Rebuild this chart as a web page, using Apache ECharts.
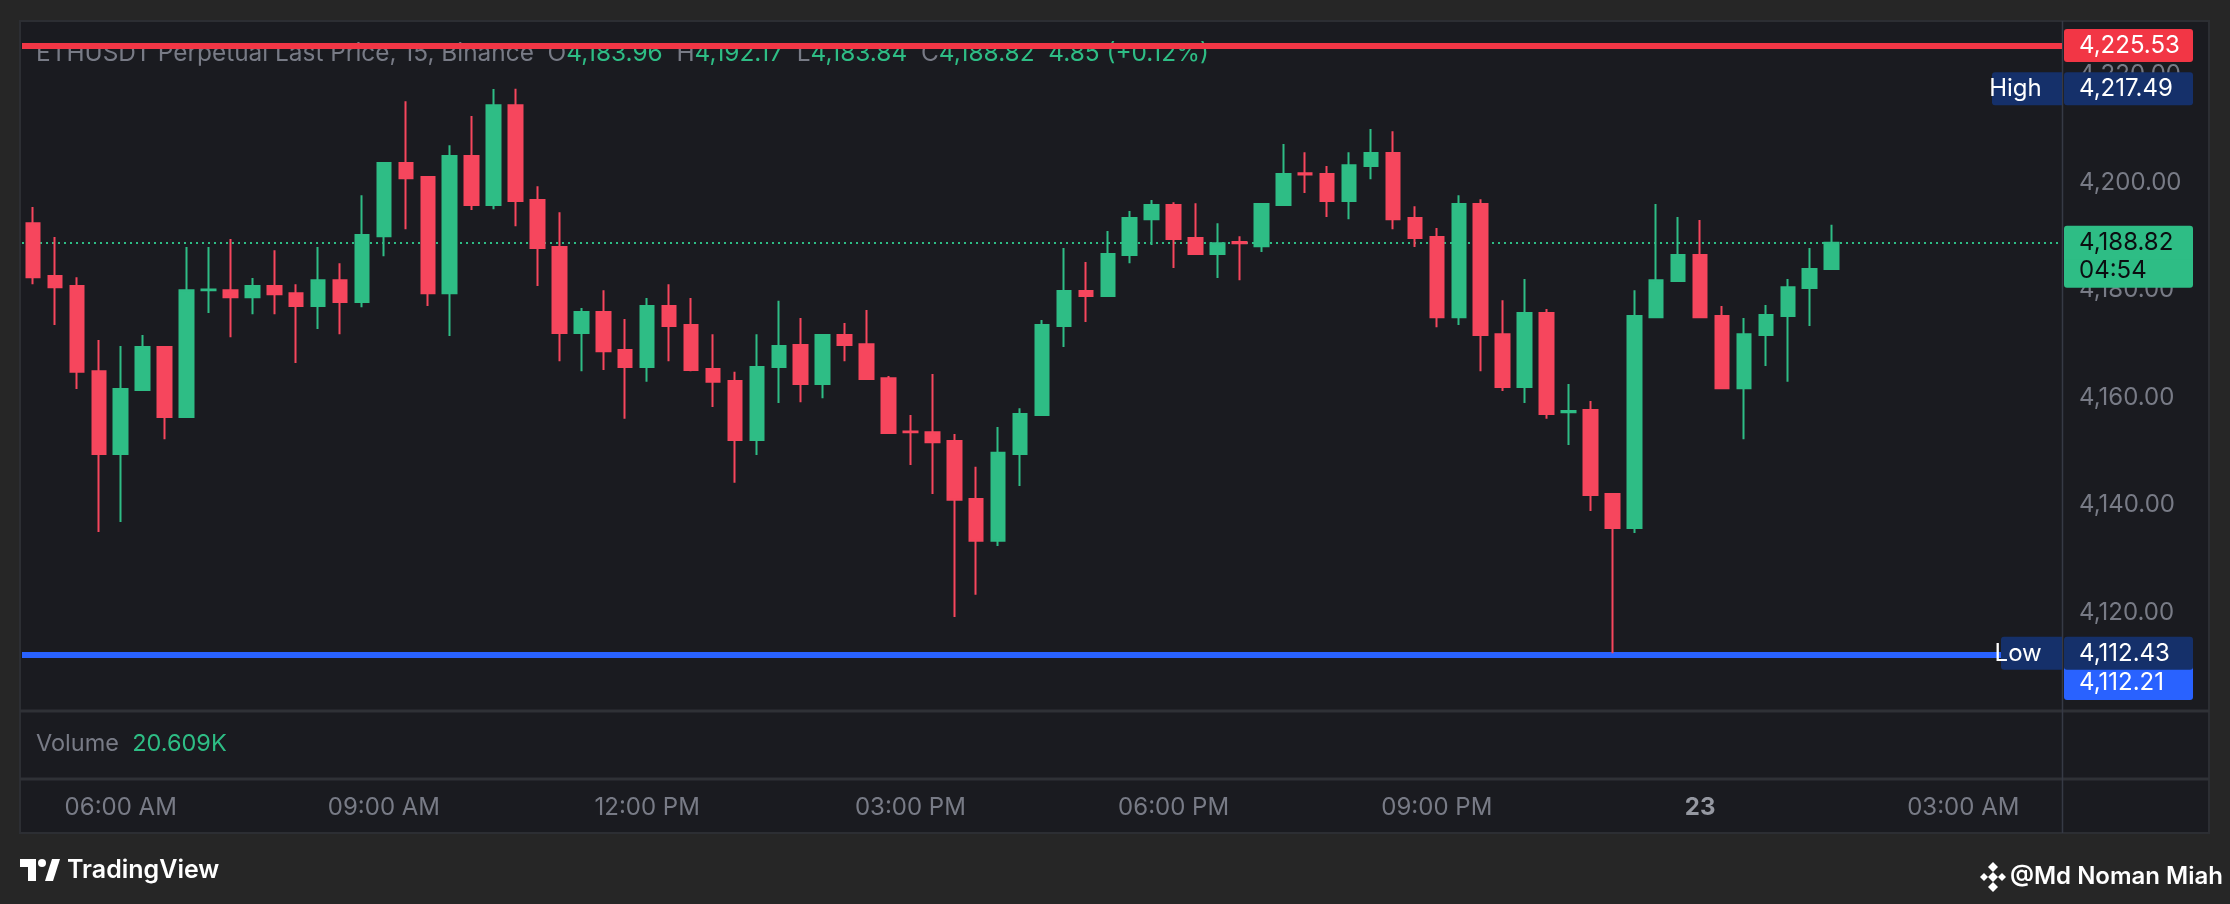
<!DOCTYPE html>
<html><head><meta charset="utf-8">
<script src="https://cdn.jsdelivr.net/npm/echarts@6.0.0/dist/echarts.min.js"></script>
<style>html,body{margin:0;padding:0;background:#262626;}#c{width:2230px;height:904px;}</style>
</head><body><div id="c"></div><script>
// ---- data (15m ETHUSDT candles, 05:00 -> 01:30) ----
const opens  = [4192.46,4182.63,4180.77,4164.94,4149.53,4161.44,4169.42,4156.41,4180.01,4180.01,4178.70,4180.77,4179.46,4177.05,4181.87,4177.81,4190.06,4203.68,4201.06,4179.46,4204.99,4195.84,4214.41,4196.80,4188.06,4172.03,4175.95,4168.87,4165.70,4177.05,4173.54,4165.36,4163.09,4152.15,4165.70,4169.83,4162.54,4171.69,4169.97,4163.64,4153.73,4153.59,4151.94,4141.14,4133.37,4149.53,4156.76,4173.34,4179.87,4178.91,4186.55,4193.22,4195.84,4189.71,4186.75,4188.96,4188.20,4195.84,4201.75,4201.61,4196.59,4203.13,4205.54,4193.43,4189.92,4174.99,4196.04,4171.82,4161.99,4175.75,4157.31,4157.72,4142.10,4135.77,4174.99,4181.73,4186.55,4175.20,4161.78,4171.69,4175.20,4180.42,4183.96];
const highs  = [4195.49,4189.92,4182.42,4170.72,4169.62,4171.69,4169.50,4188.06,4188.06,4189.51,4182.28,4187.44,4181.11,4188.06,4185.03,4197.69,4203.82,4215.17,4201.06,4206.98,4212.42,4217.44,4217.49,4199.34,4194.53,4176.71,4180.01,4174.65,4178.57,4181.11,4178.57,4171.82,4164.81,4171.82,4178.02,4174.85,4171.82,4173.89,4176.30,4164.05,4156.76,4164.39,4153.25,4147.13,4154.56,4158.06,4174.44,4187.85,4185.24,4191.02,4194.73,4196.80,4196.39,4196.18,4192.46,4190.06,4196.18,4207.19,4205.67,4203.13,4205.67,4210.01,4209.60,4195.63,4191.57,4197.69,4196.94,4178.15,4182.08,4176.50,4162.54,4159.37,4142.24,4180.01,4196.04,4193.63,4193.08,4177.05,4174.85,4177.26,4182.08,4187.85,4192.17];
const lows   = [4181.11,4173.54,4161.64,4135.02,4136.87,4161.23,4152.29,4156.21,4175.75,4171.27,4175.54,4175.54,4166.46,4172.79,4171.82,4176.85,4186.34,4191.36,4177.05,4171.48,4194.94,4195.08,4191.91,4180.77,4166.80,4164.94,4165.15,4156.07,4162.95,4166.80,4164.94,4158.27,4144.17,4149.33,4159.03,4159.17,4159.92,4166.80,4163.50,4153.45,4147.47,4142.10,4119.19,4123.32,4132.40,4143.55,4156.62,4169.42,4174.09,4178.91,4185.03,4188.41,4184.14,4186.55,4182.28,4181.87,4187.10,4195.84,4198.11,4193.63,4193.22,4200.65,4191.36,4188.06,4173.13,4173.54,4164.94,4161.23,4159.03,4156.07,4151.18,4138.94,4112.43,4134.81,4174.99,4181.73,4174.99,4161.64,4152.29,4165.91,4162.95,4173.34,4183.84];
const closes = [4182.42,4180.56,4164.81,4149.53,4161.64,4169.42,4156.41,4180.01,4180.15,4178.70,4180.77,4179.25,4177.05,4181.87,4177.81,4190.26,4203.68,4200.86,4179.46,4204.99,4195.84,4214.41,4196.59,4187.85,4172.03,4175.95,4168.66,4165.70,4177.05,4173.34,4165.15,4162.95,4152.15,4165.70,4169.62,4162.54,4171.69,4169.83,4163.50,4153.45,4153.59,4151.73,4141.00,4133.37,4149.74,4156.96,4173.54,4179.87,4178.91,4186.75,4193.43,4195.84,4189.51,4186.75,4188.75,4188.75,4196.04,4201.61,4201.55,4196.59,4203.27,4205.54,4193.22,4189.71,4174.99,4196.04,4171.69,4161.99,4175.75,4156.96,4157.51,4141.90,4135.77,4175.20,4181.87,4186.55,4174.99,4161.78,4171.82,4175.40,4180.56,4183.93,4188.82];

const firstSlotTime = [5, 0];   // 05:00
const slotMinutes = 15;
const slotCount = 93;           // includes empty slots on the right
const timeTickLabels = {4:'06:00 AM',16:'09:00 AM',28:'12:00 PM',40:'03:00 PM',52:'06:00 PM',64:'09:00 PM',76:'23',88:'03:00 AM'};
const priceTicks = [4120, 4140, 4160, 4180, 4200, 4220];
const priceRange = [4101.7, 4230.1];
const redLevel = 4225.53, blueLevel = 4112.21;
const highValue = 4217.49, lowValue = 4112.43;
const lastPrice = 4188.82, countdown = '04:54';
const headerTitle = 'ETHUSDT Perpetual Last Price, 15, Binance';
const headerOHLC = [['O',4183.96],['H',4192.17],['L',4183.84],['C',4188.82]];
const headerChange = '4.85 (+0.12%)';
const volumeText = '20.609K';

// ---- build ----
const UP = '#2ebd85', DOWN = '#f6465d', RED = '#f23645', BLUE = '#2962ff', NAVY = '#15306a', GRAY = '#787b86';
const FONT = 'Inter, Roboto, "Noto Sans", sans-serif';
const fmt = v => v.toLocaleString('en-US', {minimumFractionDigits: 2, maximumFractionDigits: 2});
const categories = [];
for (let i = 0; i < slotCount; i++) {
  const m = (firstSlotTime[0] * 60 + firstSlotTime[1] + i * slotMinutes) % 1440;
  categories.push(String(Math.floor(m / 60)).padStart(2, '0') + ':' + String(m % 60).padStart(2, '0'));
}
const candleData = opens.map((o, i) => [o, closes[i], lows[i], highs[i]]);

function boxLabel(text, bg, fg, extra) {
  return Object.assign({
    show: true, position: 'end', distance: 2, formatter: text,
    backgroundColor: bg, color: fg, fontSize: 24, lineHeight: 23, fontFamily: FONT,
    padding: [5, 0, 5, 15], width: 114, borderRadius: 3
  }, extra || {});
}
function sideLabel(text, width) {
  return {
    show: true, position: 'insideEnd', distance: 0, formatter: text,
    backgroundColor: NAVY, color: '#ffffff', fontSize: 24, lineHeight: 23, fontFamily: FONT,
    padding: [5, 0, 5, 0], width: width, align: 'right', borderRadius: [3, 0, 0, 3]
  };
}
const hidden = {color: 'rgba(0,0,0,0)', width: 1, type: 'solid'};

let headerText = '{g|' + headerTitle + '}';
headerOHLC.forEach(([k, v]) => { headerText += '{g|  ' + k + '}{v|' + fmt(v) + '}'; });
headerText += '{v|  ' + headerChange + '}';

const chart = echarts.init(document.getElementById('c'), null, {renderer: 'canvas'});
chart.setOption({
  backgroundColor: '#262626',
  animation: false,
  textStyle: {fontFamily: FONT},
  grid: [
    {left: 22, top: 21, width: 2040, height: 690},
    {left: 22, top: 711, width: 2040, height: 68}
  ],
  xAxis: [
    {type: 'category', gridIndex: 0, data: categories, boundaryGap: true, show: false},
    {type: 'category', gridIndex: 1, data: categories, boundaryGap: true,
      axisLine: {show: false}, axisTick: {show: false}, splitLine: {show: false},
      axisLabel: {
        interval: (i) => timeTickLabels[i] !== undefined,
        formatter: (v, i) => timeTickLabels[i] === '23' ? '{b|23}' : (timeTickLabels[i] || ''),
        color: GRAY, fontSize: 24, margin: 17, fontFamily: FONT,
        rich: {b: {fontWeight: 'bold', color: '#9598a1', fontSize: 24, fontFamily: FONT}}
      }}
  ],
  yAxis: [
    {type: 'value', gridIndex: 0, position: 'right', min: priceRange[0], max: priceRange[1],
      axisLine: {show: false}, axisTick: {show: false}, splitLine: {show: false},
      axisLabel: {customValues: priceTicks, formatter: v => fmt(v), color: GRAY, fontSize: 24, margin: 17, fontFamily: FONT}},
    {type: 'value', gridIndex: 1, show: false, min: 0, max: 1}
  ],
  graphic: [
    {type: 'rect', z: -10, shape: {x: 20, y: 21, width: 2189, height: 812}, style: {fill: '#1a1b20', stroke: '#2c2e33', lineWidth: 2}},
    {type: 'line', z: -5, shape: {x1: 20, y1: 711, x2: 2209, y2: 711}, style: {stroke: '#2f3136', lineWidth: 3}},
    {type: 'line', z: -5, shape: {x1: 20, y1: 779, x2: 2209, y2: 779}, style: {stroke: '#2f3136', lineWidth: 3}},
    {type: 'line', z: -5, shape: {x1: 2062.5, y1: 21, x2: 2062.5, y2: 833}, style: {stroke: '#363a45', lineWidth: 1.5}},
    {type: 'text', z: 0, x: 36, y: 54, style: {text: headerText, verticalAlign: 'middle',
      rich: {g: {fill: GRAY, fontSize: 24.4, fontFamily: FONT}, v: {fill: UP, fontSize: 24.4, fontFamily: FONT}}}},
    {type: 'text', z: 0, x: 36, y: 744, style: {text: '{g|Volume}{v|  ' + volumeText + '}', verticalAlign: 'middle',
      rich: {g: {fill: GRAY, fontSize: 23.5, fontFamily: FONT}, v: {fill: UP, fontSize: 23.5, fontFamily: FONT}}}},
    // TradingView logo + text
    {type: 'polygon', z: 0, shape: {points: [[20,859],[36,859],[36,881],[28,881],[28,867],[20,867]]}, style: {fill: '#ffffff'}},
    {type: 'circle', z: 0, shape: {cx: 42, cy: 863, r: 4}, style: {fill: '#ffffff'}},
    {type: 'polygon', z: 0, shape: {points: [[45,881],[52,859],[60,859],[53,881]]}, style: {fill: '#ffffff'}},
    {type: 'text', z: 0, x: 67, y: 870, style: {text: 'TradingView', verticalAlign: 'middle', fill: '#ffffff', fontSize: 25, fontWeight: 600, fontFamily: FONT}},
    // Binance-like mark + author
    {type: 'polygon', z: 0, shape: {points: [[1993,872],[1998,877],[1993,882],[1988,877]]}, style: {fill: '#ffffff'}},
    {type: 'polygon', z: 0, shape: {points: [[1993,862],[1998,867],[1993,872],[1988,867]]}, style: {fill: '#ffffff'}},
    {type: 'polygon', z: 0, shape: {points: [[1993,882],[1998,887],[1993,892],[1988,887]]}, style: {fill: '#ffffff'}},
    {type: 'polygon', z: 0, shape: {points: [[1984,873],[1988,877],[1984,881],[1980,877]]}, style: {fill: '#ffffff'}},
    {type: 'polygon', z: 0, shape: {points: [[2002,873],[2006,877],[2002,881],[1998,877]]}, style: {fill: '#ffffff'}},
    {type: 'text', z: 0, x: 2010, y: 877, style: {text: '@Md Noman Miah', verticalAlign: 'middle', fill: '#ffffff', fontSize: 24, fontWeight: 600, fontFamily: FONT}}
  ],
  series: [
    {
      type: 'candlestick', xAxisIndex: 0, yAxisIndex: 0, z: 3,
      data: candleData, barWidth: 14,
      itemStyle: {color: UP, color0: DOWN, borderColor: UP, borderColor0: DOWN, borderWidth: 2},
      markLine: {
        z: 1, silent: true, animation: false, symbol: ['none', 'none'],
        data: [
          {yAxis: lastPrice, lineStyle: hidden,
            label: boxLabel(countdown, UP, '#0b0e11', {verticalAlign: 'top', padding: [16, 0, 6, 15], borderRadius: [0, 0, 3, 3]})},
          {yAxis: lastPrice, lineStyle: {color: UP, width: 2, type: [2, 4]},
            label: boxLabel(fmt(lastPrice), UP, '#0b0e11', {padding: [6, 0, 5, 15], borderRadius: [3, 3, 0, 0]})},
          {yAxis: redLevel, lineStyle: {color: RED, width: 6, type: 'solid'}, label: boxLabel(fmt(redLevel), RED, '#ffffff')},
          {yAxis: blueLevel, lineStyle: {color: BLUE, width: 6, type: 'solid'},
            label: {show: true, position: 'end', distance: 2, verticalAlign: 'top', padding: [17, 0, 0, 0],
              formatter: '{a|' + fmt(blueLevel) + '}',
              rich: {a: {backgroundColor: BLUE, color: '#ffffff', fontSize: 24, lineHeight: 23, fontFamily: FONT,
                padding: [5, 0, 5, 15], width: 114, borderRadius: 3}}}},
          {yAxis: highValue, lineStyle: hidden, label: boxLabel(fmt(highValue), NAVY, '#ffffff')},
          {yAxis: highValue, lineStyle: hidden, label: sideLabel('High   ', 70)},
          {yAxis: lowValue, lineStyle: hidden, label: boxLabel(fmt(lowValue), NAVY, '#ffffff')},
          {yAxis: lowValue, lineStyle: hidden, label: sideLabel('Low   ', 61)}
        ]
      }
    },
    {type: 'bar', xAxisIndex: 1, yAxisIndex: 1, data: []}
  ]
});
</script></body></html>
